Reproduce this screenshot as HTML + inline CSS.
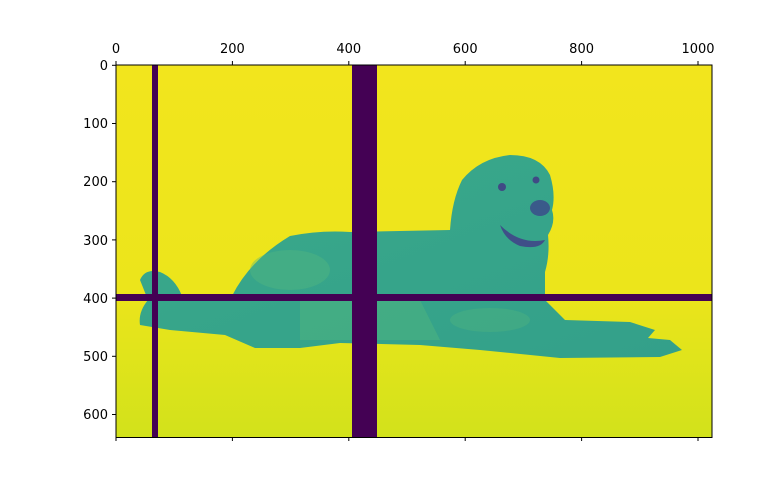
<!DOCTYPE html>
<html><head><style>body{margin:0;background:#fff}svg{display:block}text{font-family:"DejaVu Sans","Liberation Sans",sans-serif;font-size:13px;fill:#000}</style></head>
<body>
<svg width="769" height="480" viewBox="0 0 769 480">
<defs><linearGradient id="bg" x1="0" y1="0" x2="0" y2="1"><stop offset="0" stop-color="#f2e51d"/><stop offset="0.6" stop-color="#ece51b"/><stop offset="1" stop-color="#d2e21b"/></linearGradient>
<linearGradient id="dg" x1="0" y1="0" x2="1" y2="1"><stop offset="0" stop-color="#3aa98a"/><stop offset="1" stop-color="#33a08a"/></linearGradient></defs>
<rect x="116" y="65" width="596" height="372.5" fill="url(#bg)"/>
<path d="M140,280 Q145,268 160,272 Q175,278 182,296 L232,296 Q250,260 290,236 Q320,230 350,232 L450,230 Q452,200 462,180 Q480,158 510,155 Q540,155 550,175 Q556,195 552,210 Q556,222 548,235 Q550,255 545,272 L545,300 L565,320 L630,322 L655,330 L648,338 L670,340 L682,350 L660,357 L560,358 L480,350 L420,345 L340,343 L300,348 L255,348 L225,335 L170,330 L140,325 Q138,312 148,300 Z" fill="url(#dg)"/>
<path d="M300,300 L420,300 L440,340 L300,340 Z" fill="#4fb57d" opacity="0.5"/>
<ellipse cx="290" cy="270" rx="40" ry="20" fill="#55b87c" opacity="0.4"/>
<ellipse cx="490" cy="320" rx="40" ry="12" fill="#55b87c" opacity="0.35"/>
<ellipse cx="540" cy="208" rx="10" ry="8" fill="#3a5a8a"/>
<path d="M500,225 Q520,245 545,240 Q540,250 520,246 Q505,240 500,225Z" fill="#3f4f88"/>
<circle cx="502" cy="187" r="4" fill="#404a85"/><circle cx="536" cy="180" r="3.5" fill="#404a85"/>
<rect x="152" y="65" width="6" height="372.5" fill="#440154"/>
<rect x="352" y="65" width="25" height="372.5" fill="#440154"/>
<rect x="116" y="294" width="596" height="7" fill="#440154"/>
<rect x="116" y="65" width="596" height="372.5" fill="none" stroke="#000" stroke-width="1"/>
<g stroke="#000" stroke-width="1">
<line x1="116" y1="65" x2="116" y2="61"/><line x1="232.4" y1="65" x2="232.4" y2="61"/><line x1="348.8" y1="65" x2="348.8" y2="61"/><line x1="465.2" y1="65" x2="465.2" y2="61"/><line x1="581.6" y1="65" x2="581.6" y2="61"/><line x1="698" y1="65" x2="698" y2="61"/>
<line x1="116" y1="437.5" x2="116" y2="441"/><line x1="232.4" y1="437.5" x2="232.4" y2="441"/><line x1="348.8" y1="437.5" x2="348.8" y2="441"/><line x1="465.2" y1="437.5" x2="465.2" y2="441"/><line x1="581.6" y1="437.5" x2="581.6" y2="441"/><line x1="698" y1="437.5" x2="698" y2="441"/>
<line x1="116" y1="65.3" x2="112" y2="65.3"/><line x1="116" y1="123.5" x2="112" y2="123.5"/><line x1="116" y1="181.7" x2="112" y2="181.7"/><line x1="116" y1="239.9" x2="112" y2="239.9"/><line x1="116" y1="298.1" x2="112" y2="298.1"/><line x1="116" y1="356.3" x2="112" y2="356.3"/><line x1="116" y1="414.5" x2="112" y2="414.5"/>
</g>
<g text-anchor="middle"><text x="116" y="53">0</text><text x="232.4" y="53">200</text><text x="348.8" y="53">400</text><text x="465.2" y="53">600</text><text x="581.6" y="53">800</text><text x="698" y="53">1000</text></g>
<g text-anchor="end"><text x="108" y="70">0</text><text x="108" y="128">100</text><text x="108" y="186">200</text><text x="108" y="245">300</text><text x="108" y="303">400</text><text x="108" y="361">500</text><text x="108" y="419">600</text></g>
</svg>
</body></html>
